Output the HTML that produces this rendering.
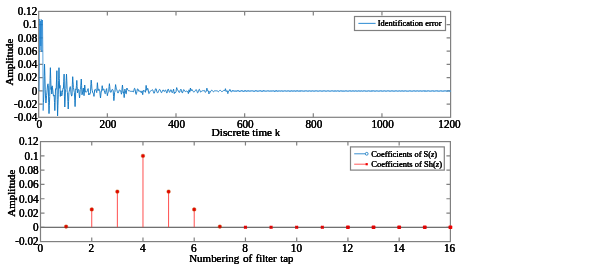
<!DOCTYPE html>
<html lang="en"><head><meta charset="utf-8"><title>Identification error and filter coefficients</title>
<style>html,body{margin:0;padding:0;background:#fff}svg{display:block}text{font-family:"Liberation Serif",serif;font-weight:normal;fill:#000;stroke:#000;stroke-width:0.18px;filter:url(#fb)}text.nf{filter:none}text.lg{filter:url(#fl);stroke-width:0.14px}</style></head><body>
<svg width="602" height="270" viewBox="0 0 602 270">
<defs><filter id="fb" x="-10%" y="-25%" width="120%" height="150%"><feOffset dx="0.38" dy="0" result="o"/><feMerge><feMergeNode in="SourceGraphic"/><feMergeNode in="o"/></feMerge></filter><filter id="fl" x="-10%" y="-25%" width="120%" height="150%"><feOffset dx="0.3" dy="0" result="o"/><feMerge><feMergeNode in="SourceGraphic"/><feMergeNode in="o"/></feMerge></filter><filter id="fv" x="-25%" y="-10%" width="150%" height="120%"><feOffset dx="0" dy="-0.38" result="o"/><feMerge><feMergeNode in="SourceGraphic"/><feMergeNode in="o"/></feMerge></filter></defs>
<rect width="602" height="270" fill="#fff"/>
<rect x="38.7" y="11.4" width="411.90000000000003" height="105.89999999999999" fill="none" stroke="#808080" stroke-width="1.2"/>
<path d="M107.35,117.3v-4M107.35,11.4v4M176.00,117.3v-4M176.00,11.4v4M244.65,117.3v-4M244.65,11.4v4M313.30,117.3v-4M313.30,11.4v4M381.95,117.3v-4M381.95,11.4v4M38.7,104.06h4M450.6,104.06h-4M38.7,90.83h4M450.6,90.83h-4M38.7,77.59h4M450.6,77.59h-4M38.7,64.35h4M450.6,64.35h-4M38.7,51.11h4M450.6,51.11h-4M38.7,37.88h4M450.6,37.88h-4M38.7,24.64h4M450.6,24.64h-4" stroke="#808080" stroke-width="1.2" fill="none"/>
<path d="M39.05,91.0 L39.39,70.0 L39.74,19.0 L40.08,50.0 L40.42,21.0 L40.77,46.0 L41.11,30.0 L41.45,19.5 L41.80,52.0 L42.14,24.0 L42.48,20.0 L42.83,50.0 L43.17,110.6 L43.51,102.4" fill="none" stroke="#1b7fd0" stroke-width="0.7" stroke-linejoin="round"/>
<path d="M43.51,102.4 L43.86,93.1 L44.20,76.6 L44.54,64.0 L44.89,75.2 L45.23,89.8 L45.57,98.1 L45.92,103.0 L46.26,100.2 L46.60,95.6 L46.94,92.1 L47.29,88.0 L47.63,84.7 L47.97,83.8 L48.32,85.6 L48.66,102.6 L49.00,113.6 L49.35,105.5 L49.69,96.6 L50.03,80.5 L50.38,67.7 L50.72,78.7 L51.06,89.5 L51.41,87.2 L51.75,94.0 L52.09,85.8 L52.44,87.4 L52.78,90.0 L53.12,93.3 L53.47,95.7 L53.81,96.2 L54.15,95.0 L54.50,102.6 L54.84,110.6 L55.18,100.9 L55.53,88.7 L55.87,89.0 L56.21,89.3 L56.56,79.1 L56.90,70.7 L57.24,99.4 L57.59,115.9 L57.93,105.5 L58.27,94.9 L58.62,80.4 L58.96,67.7 L59.30,78.7 L59.65,88.3 L59.99,85.4 L60.33,96.4 L60.67,92.2 L61.02,90.8 L61.36,94.3 L61.70,95.9 L62.05,95.1 L62.39,92.4 L62.73,89.6 L63.08,88.1 L63.42,88.3 L63.76,81.3 L64.11,74.1 L64.45,96.1 L64.79,107.0 L65.14,100.0 L65.48,89.5 L65.82,88.4 L66.17,80.7 L66.51,74.1 L66.85,81.9 L67.20,92.3 L67.54,92.6 L67.88,101.6 L68.23,109.0 L68.57,101.7 L68.91,92.4 L69.26,91.2 L69.60,89.2 L69.94,87.3 L70.29,86.6 L70.63,87.8 L70.97,93.0 L71.32,95.0 L71.66,96.0 L72.00,95.7 L72.35,84.2 L72.69,76.7 L73.03,81.8 L73.38,87.6 L73.72,89.0 L74.06,91.1 L74.40,92.6 L74.75,100.3 L75.09,106.6 L75.43,99.0 L75.78,88.9 L76.12,89.7 L76.46,85.4 L76.81,80.4 L77.15,86.5 L77.49,92.8 L77.84,91.1 L78.18,89.7 L78.52,89.4 L78.87,90.2 L79.21,94.8 L79.55,98.0 L79.90,94.6 L80.24,89.6 L80.58,89.2 L80.93,84.0 L81.27,79.0 L81.61,85.7 L81.96,94.8 L82.30,94.1 L82.64,91.9 L82.99,89.3 L83.33,88.0 L83.67,92.2 L84.02,95.7 L84.36,92.0 L84.70,85.0 L85.05,88.2 L85.39,92.0 L85.73,91.9 L86.08,91.9 L86.42,92.0 L86.76,91.8 L87.11,91.3 L87.45,90.4 L87.79,89.2 L88.13,88.6 L88.48,92.2 L88.82,95.0 L89.16,93.6 L89.51,93.7 L89.85,94.3 L90.19,93.6 L90.54,91.8 L90.88,84.4 L91.22,80.1 L91.57,83.6 L91.91,88.9 L92.25,90.5 L92.60,92.1 L92.94,93.1 L93.28,93.3 L93.63,94.7 L93.97,96.4 L94.31,93.8 L94.66,89.8 L95.00,89.4 L95.34,89.3 L95.69,89.8 L96.03,90.6 L96.37,91.5 L96.72,92.6 L97.06,87.4 L97.40,82.7 L97.75,86.9 L98.09,90.7 L98.43,89.4 L98.78,88.9 L99.12,89.3 L99.46,90.2 L99.81,91.1 L100.15,95.1 L100.49,98.0 L100.84,95.0 L101.18,91.4 L101.52,91.6 L101.86,88.5 L102.21,85.7 L102.55,88.3 L102.89,90.4 L103.24,89.4 L103.58,88.8 L103.92,89.2 L104.27,90.5 L104.61,92.3 L104.95,93.5 L105.30,93.7 L105.64,92.6 L105.98,90.8 L106.33,89.2 L106.67,88.6 L107.01,92.7 L107.36,95.7 L107.70,93.9 L108.04,92.5 L108.39,92.3 L108.73,91.4 L109.07,86.7 L109.42,83.7 L109.76,86.6 L110.10,91.0 L110.45,92.0 L110.79,92.4 L111.13,92.0 L111.48,91.1 L111.82,90.1 L112.16,89.4 L112.51,89.4 L112.85,89.9 L113.19,90.8 L113.54,96.5 L113.88,100.6 L114.22,97.0 L114.57,92.5 L114.91,92.0 L115.25,87.6 L115.59,84.6 L115.94,86.7 L116.28,88.9 L116.62,89.2 L116.97,90.2 L117.31,91.6 L117.65,92.7 L118.00,93.1 L118.34,92.7 L118.68,91.8 L119.03,90.7 L119.37,90.0 L119.71,89.9 L120.06,90.2 L120.40,90.6 L120.74,90.8 L121.09,92.7 L121.43,94.2 L121.77,92.7 L122.12,87.8 L122.46,85.0 L122.80,88.4 L123.15,92.5 L123.49,91.8 L123.83,94.4 L124.18,97.6 L124.52,93.6 L124.86,89.1 L125.21,90.3 L125.55,92.1 L125.89,93.6 L126.24,93.8 L126.58,90.2 L126.92,88.0 L127.27,89.0 L127.61,89.6 L127.95,89.8 L128.30,90.4 L128.64,91.0 L128.98,91.2 L129.32,91.0 L129.67,90.7 L130.01,90.7 L130.35,91.0 L130.70,91.4 L131.04,91.6 L131.38,91.4 L131.73,91.0 L132.07,90.8 L132.41,91.1 L132.76,91.7 L133.10,92.1 L133.44,91.8 L133.79,90.8 L134.13,89.3 L134.47,88.3 L134.82,88.5 L135.16,89.9 L135.50,92.0 L135.85,93.8 L136.19,94.4 L136.53,93.4 L136.88,91.6 L137.22,89.8 L137.56,88.8 L137.91,89.0 L138.25,89.9 L138.59,90.9 L138.94,91.4 L139.28,91.3 L139.62,90.9 L139.97,90.7 L140.31,91.1 L140.65,91.9 L141.00,92.6 L141.34,92.7 L141.68,92.1 L142.03,90.9 L142.37,92.5 L142.71,94.7 L143.05,92.5 L143.40,90.2 L143.74,90.6 L144.08,90.7 L144.43,90.8 L144.77,91.1 L145.11,91.6 L145.46,92.3 L145.80,88.8 L146.14,85.4 L146.49,88.3 L146.83,90.3 L147.17,88.9 L147.52,88.2 L147.86,88.6 L148.20,89.9 L148.55,92.7 L148.89,93.6 L149.23,93.3 L149.58,92.5 L149.92,91.8 L150.26,91.2 L150.61,90.8 L150.95,90.7 L151.29,90.6 L151.64,90.3 L151.98,89.9 L152.32,89.7 L152.67,89.9 L153.01,90.7 L153.35,91.7 L153.70,92.8 L154.04,93.3 L154.38,92.9 L154.73,91.8 L155.07,90.3 L155.41,89.1 L155.76,88.6 L156.10,88.9 L156.44,90.0 L156.78,91.2 L157.13,92.3 L157.47,92.8 L157.81,92.8 L158.16,92.2 L158.50,91.4 L158.84,90.6 L159.19,89.8 L159.53,89.4 L159.87,89.5 L160.22,90.0 L160.56,90.8 L160.90,91.8 L161.25,92.6 L161.59,92.7 L161.93,92.1 L162.28,91.3 L162.62,90.4 L162.96,89.9 L163.31,90.0 L163.65,90.7 L163.99,91.3 L164.34,91.5 L164.68,91.1 L165.02,90.4 L165.37,89.9 L165.71,90.2 L166.05,91.1 L166.40,92.3 L166.74,93.1 L167.08,92.7 L167.43,91.4 L167.77,90.0 L168.11,89.1 L168.46,89.3 L168.80,90.4 L169.14,91.6 L169.49,92.3 L169.83,92.1 L170.17,91.2 L170.51,90.2 L170.86,89.7 L171.20,90.1 L171.54,91.1 L171.89,92.2 L172.23,92.8 L172.57,92.4 L172.92,91.3 L173.26,90.0 L173.60,89.1 L173.95,91.6 L174.29,93.6 L174.63,92.5 L174.98,92.1 L175.32,92.7 L175.66,92.5 L176.01,91.9 L176.35,89.2 L176.69,87.6 L177.04,88.6 L177.38,89.7 L177.72,89.9 L178.07,90.5 L178.41,91.3 L178.75,92.0 L179.10,92.5 L179.44,92.4 L179.78,92.1 L180.13,90.6 L180.47,89.6 L180.81,89.1 L181.16,89.5 L181.50,90.7 L181.84,92.0 L182.19,92.8 L182.53,92.8 L182.87,91.9 L183.22,90.7 L183.56,89.8 L183.90,89.6 L184.24,90.0 L184.59,90.8 L184.93,91.4 L185.27,91.6 L185.62,91.4 L185.96,91.1 L186.30,91.0 L186.65,91.3 L186.99,91.6 L187.33,91.7 L187.68,91.3 L188.02,92.2 L188.36,93.6 L188.71,91.7 L189.05,89.8 L189.39,90.9 L189.74,92.2 L190.08,90.3 L190.42,88.0 L190.77,89.8 L191.11,90.8 L191.45,89.8 L191.80,89.4 L192.14,89.6 L192.48,90.3 L192.83,91.0 L193.17,91.5 L193.51,91.8 L193.86,91.9 L194.20,91.8 L194.54,91.6 L194.89,91.3 L195.23,90.8 L195.57,90.2 L195.92,89.7 L196.26,89.7 L196.60,90.2 L196.95,91.2 L197.29,92.3 L197.63,92.9 L197.97,92.6 L198.32,91.7 L198.66,90.4 L199.00,89.5 L199.35,89.3 L199.69,89.9 L200.03,90.9 L200.38,91.8 L200.72,92.1 L201.06,91.9 L201.41,91.4 L201.75,90.9 L202.09,90.6 L202.44,90.7 L202.78,90.9 L203.12,90.9 L203.47,90.7 L203.81,90.4 L204.15,90.3 L204.50,90.6 L204.84,91.5 L205.18,92.2 L205.53,92.3 L205.87,91.9 L206.21,91.2 L206.56,89.2 L206.90,88.2 L207.24,89.2 L207.59,90.7 L207.93,90.8 L208.27,90.8 L208.62,92.5 L208.96,93.9 L209.30,92.6 L209.65,91.6 L209.99,92.1 L210.33,92.2 L210.68,91.3 L211.02,90.9 L211.36,90.4 L211.70,90.2 L212.05,90.2 L212.39,90.6 L212.73,91.2 L213.08,91.6 L213.42,91.8 L213.76,91.6 L214.11,91.2 L214.45,90.9 L214.79,90.7 L215.14,90.7 L215.48,90.8 L215.82,90.9 L216.17,90.9 L216.51,90.8 L216.85,90.8 L217.20,90.9 L217.54,91.1 L217.88,91.4 L218.23,91.6 L218.57,91.6 L218.91,91.3 L219.26,90.9 L219.60,90.5 L219.94,90.3 L220.29,90.3 L220.63,90.6 L220.97,91.0 L221.32,91.3 L221.66,91.6 L222.00,91.6 L222.35,91.5 L222.69,91.2 L223.03,90.9 L223.38,90.7 L223.72,90.4 L224.06,90.4 L224.41,90.5 L224.75,90.8 L225.09,89.8 L225.43,88.7 L225.78,90.0 L226.12,91.5 L226.46,91.1 L226.81,90.8 L227.15,90.6 L227.49,92.3 L227.84,93.6 L228.18,92.5 L228.52,91.2 L228.87,91.1 L229.21,90.9 L229.55,89.9 L229.90,89.4 L230.24,90.0 L230.58,91.2 L230.93,91.7 L231.27,91.8" fill="none" stroke="#1177c2" stroke-width="0.95" stroke-linejoin="round"/>
<path d="M231.27,91.84 L231.61,91.60 L231.96,91.09 L232.30,90.56 L232.64,90.55 L232.99,90.61 L233.33,90.80 L233.67,91.01 L234.02,91.14 L234.36,91.14 L234.70,91.07 L235.05,91.00 L235.39,91.01 L235.73,91.09 L236.08,91.19 L236.42,91.23 L236.76,91.13 L237.11,90.95 L237.45,90.75 L237.79,90.61 L238.14,90.62 L238.48,90.80 L238.82,91.03 L239.16,91.23 L239.51,91.34 L239.85,91.34 L240.19,91.24 L240.54,91.09 L240.88,90.93 L241.22,90.79 L241.57,90.70 L241.91,90.69 L242.25,90.77 L242.60,90.93 L242.94,91.14 L243.28,91.31 L243.63,91.37 L243.97,91.29 L244.31,91.09 L244.66,90.84 L245.00,90.67 L245.34,90.64 L245.69,90.79 L246.03,91.02 L246.37,91.22 L246.72,91.31 L247.06,91.23 L247.40,91.03 L247.75,90.83 L248.09,90.74 L248.43,90.79 L248.78,90.94 L249.12,91.12 L249.46,91.20 L249.81,91.19 L250.15,91.11 L250.49,91.01 L250.84,90.95 L251.18,90.94 L251.52,90.93 L251.87,90.90 L252.21,90.86 L252.55,90.83 L252.89,90.88 L253.24,91.00 L253.58,91.16 L253.92,91.30 L254.27,91.35 L254.61,91.25 L254.95,91.03 L255.30,90.81 L255.64,90.67 L255.98,90.65 L256.33,90.75 L256.67,90.92 L257.01,91.09 L257.36,91.19 L257.70,91.23 L258.04,91.22 L258.39,91.16 L258.73,91.07 L259.07,90.98 L259.42,90.88 L259.76,90.79 L260.10,90.74 L260.45,90.76 L260.79,90.87 L261.13,91.04 L261.48,91.23 L261.82,91.35 L262.16,91.34 L262.51,91.21 L262.85,91.00 L263.19,90.80 L263.54,90.68 L263.88,90.69 L264.22,90.80 L264.57,90.96 L264.91,91.10 L265.25,91.18 L265.60,91.21 L265.94,91.17 L266.28,91.11 L266.62,91.05 L266.97,90.98 L267.31,90.89 L267.65,90.82 L268.00,90.80 L268.34,90.83 L268.68,90.91 L269.03,91.05 L269.37,91.18 L269.71,91.22 L270.06,91.16 L270.40,91.06 L270.74,90.97 L271.09,90.95 L271.43,90.99 L271.77,91.03 L272.12,91.04 L272.46,90.97 L272.80,90.87 L273.15,90.79 L273.49,90.80 L273.83,90.94 L274.18,91.14 L274.52,91.30 L274.86,91.34 L275.21,91.20 L275.55,90.96 L275.89,90.75 L276.24,90.66 L276.58,90.74 L276.92,90.94 L277.27,91.14 L277.61,91.24 L277.95,91.20 L278.30,91.07 L278.64,90.92 L278.98,90.84 L279.33,90.88 L279.67,91.00 L280.01,91.11 L280.35,91.14 L280.70,91.07 L281.04,90.93 L281.38,90.81 L281.73,90.80 L282.07,90.91 L282.41,91.07 L282.76,91.22 L283.10,91.25 L283.44,91.15 L283.79,91.01 L284.13,90.87 L284.47,90.80 L284.82,90.81 L285.16,90.89 L285.50,90.98 L285.85,91.07 L286.19,91.14 L286.53,91.17 L286.88,91.15 L287.22,91.09 L287.56,90.98 L287.91,90.86 L288.25,90.78 L288.59,90.78 L288.94,90.88 L289.28,91.05 L289.62,91.20 L289.97,91.27 L290.31,91.21 L290.65,91.05 L291.00,90.88 L291.34,90.77 L291.68,90.78 L292.03,90.91 L292.37,91.07 L292.71,91.18 L293.06,91.18 L293.40,91.07 L293.74,90.92 L294.08,90.82 L294.43,90.83 L294.77,90.94 L295.11,91.10 L295.46,91.23 L295.80,91.22 L296.14,91.10 L296.49,90.93 L296.83,90.78 L297.17,90.75 L297.52,90.84 L297.86,90.98 L298.20,91.11 L298.55,91.17 L298.89,91.14 L299.23,91.07 L299.58,91.01 L299.92,90.99 L300.26,91.00 L300.61,91.01 L300.95,90.98 L301.29,90.92 L301.64,90.87 L301.98,90.84 L302.32,90.89 L302.67,91.01 L303.01,91.11 L303.35,91.17 L303.70,91.17 L304.04,91.12 L304.38,91.04 L304.73,90.98 L305.07,90.94 L305.41,90.90 L305.76,90.89 L306.10,90.89 L306.44,90.92 L306.79,90.98 L307.13,91.07 L307.47,91.16 L307.81,91.19 L308.16,91.15 L308.50,91.04 L308.84,90.89 L309.19,90.79 L309.53,90.78 L309.87,90.87 L310.22,91.02 L310.56,91.16 L310.90,91.22 L311.25,91.18 L311.59,91.05 L311.93,90.91 L312.28,90.82 L312.62,90.82 L312.96,90.89 L313.31,91.01 L313.65,91.09 L313.99,91.13 L314.34,91.12 L314.68,91.07 L315.02,91.01 L315.37,90.97 L315.71,90.93 L316.05,90.90 L316.40,90.89 L316.74,90.90 L317.08,90.95 L317.43,91.03 L317.77,91.12 L318.11,91.19 L318.46,91.19 L318.80,91.12 L319.14,90.99 L319.49,90.86 L319.83,90.79 L320.17,90.79 L320.52,90.87 L320.86,90.99 L321.20,91.09 L321.54,91.15 L321.89,91.16 L322.23,91.12 L322.57,91.06 L322.92,91.00 L323.26,90.95 L323.60,90.91 L323.95,90.87 L324.29,90.87 L324.63,90.89 L324.98,90.95 L325.32,91.04 L325.66,91.14 L326.01,91.20 L326.35,91.19 L326.69,91.12 L327.04,91.00 L327.38,90.88 L327.72,90.80 L328.07,90.80 L328.41,90.86 L328.75,90.96 L329.10,91.06 L329.44,91.13 L329.78,91.15 L330.13,91.13 L330.47,91.09 L330.81,91.03 L331.16,90.96 L331.50,90.90 L331.84,90.86 L332.19,90.86 L332.53,90.91 L332.87,90.98 L333.22,91.07 L333.56,91.13 L333.90,91.13 L334.25,91.08 L334.59,91.00 L334.93,90.94 L335.27,90.94 L335.62,90.98 L335.96,91.05 L336.30,91.08 L336.65,91.05 L336.99,90.97 L337.33,90.87 L337.68,90.81 L338.02,90.85 L338.36,90.97 L338.71,91.12 L339.05,91.23 L339.39,91.24 L339.74,91.14 L340.08,90.99 L340.42,90.87 L340.77,90.82 L341.11,90.86 L341.45,90.94 L341.80,91.01 L342.14,91.04 L342.48,91.03 L342.83,91.01 L343.17,91.00 L343.51,91.03 L343.86,91.07 L344.20,91.11 L344.54,91.11 L344.89,91.04 L345.23,90.94 L345.57,90.85 L345.92,90.81 L346.26,90.84 L346.60,90.93 L346.95,91.04 L347.29,91.13 L347.63,91.17 L347.98,91.15 L348.32,91.10 L348.66,91.03 L349.00,90.95 L349.35,90.89 L349.69,90.86 L350.03,90.86 L350.38,90.92 L350.72,91.00 L351.06,91.09 L351.41,91.15 L351.75,91.14 L352.09,91.07 L352.44,90.97 L352.78,90.89 L353.12,90.87 L353.47,90.92 L353.81,91.02 L354.15,91.10 L354.50,91.12 L354.84,91.07 L355.18,90.96 L355.53,90.87 L355.87,90.84 L356.21,90.91 L356.56,91.02 L356.90,91.14 L357.24,91.19 L357.59,91.14 L357.93,91.02 L358.27,90.90 L358.62,90.84 L358.96,90.87 L359.30,90.95 L359.65,91.05 L359.99,91.09 L360.33,91.07 L360.68,91.01 L361.02,90.94 L361.36,90.92 L361.71,90.97 L362.05,91.04 L362.39,91.11 L362.73,91.13 L363.08,91.07 L363.42,90.98 L363.76,90.91 L364.11,90.87 L364.45,90.89 L364.79,90.93 L365.14,90.98 L365.48,91.02 L365.82,91.05 L366.17,91.08 L366.51,91.11 L366.85,91.12 L367.20,91.09 L367.54,91.01 L367.88,90.91 L368.23,90.83 L368.57,90.82 L368.91,90.87 L369.26,90.96 L369.60,91.07 L369.94,91.12 L370.29,91.11 L370.63,91.07 L370.97,91.03 L371.32,91.00 L371.66,90.99 L372.00,91.00 L372.35,90.99 L372.69,90.96 L373.03,90.92 L373.38,90.90 L373.72,90.92 L374.06,90.98 L374.41,91.07 L374.75,91.15 L375.09,91.17 L375.44,91.12 L375.78,91.02 L376.12,90.91 L376.46,90.84 L376.81,90.83 L377.15,90.89 L377.49,90.98 L377.84,91.05 L378.18,91.10 L378.52,91.11 L378.87,91.09 L379.21,91.05 L379.55,91.01 L379.90,90.96 L380.24,90.93 L380.58,90.90 L380.93,90.90 L381.27,90.93 L381.61,90.99 L381.96,91.07 L382.30,91.13 L382.64,91.15 L382.99,91.11 L383.33,91.02 L383.67,90.92 L384.02,90.85 L384.36,90.84 L384.70,90.89 L385.05,90.98 L385.39,91.07 L385.73,91.12 L386.08,91.12 L386.42,91.08 L386.76,91.02 L387.11,90.97 L387.45,90.94 L387.79,90.93 L388.14,90.93 L388.48,90.94 L388.82,90.96 L389.17,90.99 L389.51,91.03 L389.85,91.09 L390.19,91.12 L390.54,91.12 L390.88,91.07 L391.22,90.98 L391.57,90.89 L391.91,90.85 L392.25,90.86 L392.60,90.92 L392.94,91.01 L393.28,91.08 L393.63,91.11 L393.97,91.11 L394.31,91.08 L394.66,91.03 L395.00,90.99 L395.34,90.95 L395.69,90.92 L396.03,90.91 L396.37,90.93 L396.72,90.97 L397.06,91.03 L397.40,91.08 L397.75,91.11 L398.09,91.09 L398.43,91.02 L398.78,90.95 L399.12,90.90 L399.46,90.90 L399.81,90.96 L400.15,91.04 L400.49,91.10 L400.84,91.11 L401.18,91.05 L401.52,90.96 L401.87,90.89 L402.21,90.86 L402.55,90.91 L402.90,91.00 L403.24,91.09 L403.58,91.15 L403.92,91.13 L404.27,91.06 L404.61,90.97 L404.95,90.91 L405.30,90.89 L405.64,90.91 L405.98,90.95 L406.33,91.00 L406.67,91.03 L407.01,91.05 L407.36,91.05 L407.70,91.06 L408.04,91.06 L408.39,91.05 L408.73,91.03 L409.07,90.98 L409.42,90.93 L409.76,90.89 L410.10,90.89 L410.45,90.92 L410.79,90.99 L411.13,91.05 L411.48,91.09 L411.82,91.10 L412.16,91.09 L412.51,91.05 L412.85,91.01 L413.19,90.96 L413.54,90.92 L413.88,90.90 L414.22,90.91 L414.57,90.94 L414.91,91.00 L415.25,91.07 L415.60,91.12 L415.94,91.12 L416.28,91.07 L416.63,90.99 L416.97,90.91 L417.31,90.87 L417.65,90.89 L418.00,90.96 L418.34,91.05 L418.68,91.10 L419.03,91.10 L419.37,91.05 L419.71,90.97 L420.06,90.91 L420.40,90.90 L420.74,90.94 L421.09,91.01 L421.43,91.08 L421.77,91.10 L422.12,91.07 L422.46,91.02 L422.80,90.96 L423.15,90.93 L423.49,90.94 L423.83,90.96 L424.18,90.99 L424.52,90.99 L424.86,90.99 L425.21,90.99 L425.55,91.01 L425.89,91.05 L426.24,91.08 L426.58,91.09 L426.92,91.07 L427.27,91.00 L427.61,90.94 L427.95,90.90 L428.30,90.90 L428.64,90.92 L428.98,90.97 L429.33,91.01 L429.67,91.04 L430.01,91.06 L430.36,91.07 L430.70,91.07 L431.04,91.06 L431.38,91.02 L431.73,90.97 L432.07,90.92 L432.41,90.88 L432.76,90.89 L433.10,90.93 L433.44,91.00 L433.79,91.08 L434.13,91.12 L434.47,91.12 L434.82,91.08 L435.16,91.02 L435.50,90.96 L435.85,90.93 L436.19,90.93 L436.53,90.94 L436.88,90.96 L437.22,90.97 L437.56,90.99 L437.91,91.01 L438.25,91.04 L438.59,91.07 L438.94,91.09 L439.28,91.09 L439.62,91.05 L439.97,90.98 L440.31,90.92 L440.65,90.88 L441.00,90.89 L441.34,90.93 L441.68,90.99 L442.03,91.05 L442.37,91.08 L442.71,91.08 L443.06,91.07 L443.40,91.04 L443.74,91.01 L444.09,90.99 L444.43,90.96 L444.77,90.93 L445.11,90.92 L445.46,90.93 L445.80,90.96 L446.14,91.02 L446.49,91.08 L446.83,91.11 L447.17,91.10 L447.52,91.05 L447.86,90.98 L448.20,90.92 L448.55,90.90 L448.89,90.92 L449.23,90.97 L449.58,91.02 L449.92,91.05 L450.26,91.06 L450.61,91.04 L450.95,91.00" fill="none" stroke="#4598d8" stroke-width="1.3" stroke-linejoin="round"/>
<text transform="translate(37.3,121.0) scale(1,1.03)" font-size="11.2" text-anchor="end">-0.04</text>
<text transform="translate(37.3,107.8) scale(1,1.03)" font-size="11.2" text-anchor="end">-0.02</text>
<text transform="translate(37.3,94.6) scale(1,1.03)" font-size="11.2" text-anchor="end">0</text>
<text transform="translate(37.3,81.3) scale(1,1.03)" font-size="11.2" text-anchor="end">0.02</text>
<text transform="translate(37.3,68.1) scale(1,1.03)" font-size="11.2" text-anchor="end">0.04</text>
<text transform="translate(37.3,54.9) scale(1,1.03)" font-size="11.2" text-anchor="end">0.06</text>
<text transform="translate(37.3,41.6) scale(1,1.03)" font-size="11.2" text-anchor="end">0.08</text>
<text transform="translate(37.3,28.4) scale(1,1.03)" font-size="11.2" text-anchor="end">0.1</text>
<text transform="translate(37.3,15.2) scale(1,1.03)" font-size="11.2" text-anchor="end">0.12</text>
<text transform="translate(39.3,128.4) scale(1,1.03)" font-size="11.2" text-anchor="middle">0</text>
<text transform="translate(108.0,128.4) scale(1,1.03)" font-size="11.2" text-anchor="middle">200</text>
<text transform="translate(176.6,128.4) scale(1,1.03)" font-size="11.2" text-anchor="middle">400</text>
<text transform="translate(245.3,128.4) scale(1,1.03)" font-size="11.2" text-anchor="middle">600</text>
<text transform="translate(313.9,128.4) scale(1,1.03)" font-size="11.2" text-anchor="middle">800</text>
<text transform="translate(382.6,128.4) scale(1,1.03)" font-size="11.2" text-anchor="middle">1000</text>
<text transform="translate(449.5,128.4) scale(1,1.03)" font-size="11.2" text-anchor="middle">1200</text>
<text y="136.4" font-size="11.2"><tspan x="211.4" textLength="38.3" lengthAdjust="spacingAndGlyphs">Discrete</tspan> <tspan x="252.2" textLength="19.8" lengthAdjust="spacingAndGlyphs">time</tspan> <tspan x="275.0" textLength="5.0" lengthAdjust="spacingAndGlyphs">k</tspan></text>
<g filter="url(#fv)"><text class="nf" transform="translate(13,62) rotate(-90)" font-size="11.2" text-anchor="middle" textLength="47" lengthAdjust="spacingAndGlyphs">Amplitude</text></g>
<rect x="354.5" y="16.5" width="91" height="14" fill="#fff" stroke="#808080" stroke-width="1.2"/>
<path d="M358.4,23.4H375.6" stroke="#3f95d6" stroke-width="1.1"/>
<text class="lg" transform="translate(377.8,26.2) scale(1,1.08)" font-size="8.4" textLength="63.7" lengthAdjust="spacingAndGlyphs">Identification error</text>
<rect x="40.5" y="141.6" width="409.9" height="100.0" fill="none" stroke="#808080" stroke-width="1.2"/>
<path d="M91.74,241.6v-4M91.74,141.6v4M142.97,241.6v-4M142.97,141.6v4M194.21,241.6v-4M194.21,141.6v4M245.45,241.6v-4M245.45,141.6v4M296.69,241.6v-4M296.69,141.6v4M347.92,241.6v-4M347.92,141.6v4M399.16,241.6v-4M399.16,141.6v4M40.5,227.31h4M450.4,227.31h-4M40.5,213.03h4M450.4,213.03h-4M40.5,198.74h4M450.4,198.74h-4M40.5,184.46h4M450.4,184.46h-4M40.5,170.17h4M450.4,170.17h-4M40.5,155.89h4M450.4,155.89h-4" stroke="#808080" stroke-width="1.2" fill="none"/>
<path d="M40.5,227.31H450.4" stroke="#808080" stroke-width="1.2"/>
<path d="M91.74,227.31V209.46M117.36,227.31V191.60M142.97,227.31V155.89M168.59,227.31V191.60M194.21,227.31V209.46" stroke="#ff4646" stroke-width="0.95" fill="none"/>
<rect x="64.47" y="224.95" width="3.3" height="3.3" rx="1.2" fill="#e60000" stroke="#c05a10" stroke-width="0.5"/>
<rect x="90.09" y="207.81" width="3.3" height="3.3" rx="1.2" fill="#e60000" stroke="#c05a10" stroke-width="0.5"/>
<rect x="115.71" y="189.95" width="3.3" height="3.3" rx="1.2" fill="#e60000" stroke="#c05a10" stroke-width="0.5"/>
<rect x="141.32" y="154.24" width="3.3" height="3.3" rx="1.2" fill="#e60000" stroke="#c05a10" stroke-width="0.5"/>
<rect x="166.94" y="189.95" width="3.3" height="3.3" rx="1.2" fill="#e60000" stroke="#c05a10" stroke-width="0.5"/>
<rect x="192.56" y="207.81" width="3.3" height="3.3" rx="1.2" fill="#e60000" stroke="#c05a10" stroke-width="0.5"/>
<rect x="218.18" y="224.95" width="3.3" height="3.3" rx="1.2" fill="#e60000" stroke="#c05a10" stroke-width="0.5"/>
<path d="M244.05,225.91l2.8,2.8M244.05,228.71l2.8,-2.8M243.95,227.31h3M245.45,225.81v3" stroke="#f00000" stroke-width="1.1" fill="none"/>
<path d="M269.67,225.91l2.8,2.8M269.67,228.71l2.8,-2.8M269.57,227.31h3M271.07,225.81v3" stroke="#f00000" stroke-width="1.1" fill="none"/>
<path d="M295.29,225.91l2.8,2.8M295.29,228.71l2.8,-2.8M295.19,227.31h3M296.69,225.81v3" stroke="#f00000" stroke-width="1.1" fill="none"/>
<path d="M320.91,225.91l2.8,2.8M320.91,228.71l2.8,-2.8M320.81,227.31h3M322.31,225.81v3" stroke="#f00000" stroke-width="1.1" fill="none"/>
<rect x="346.02" y="225.61" width="3.8" height="3.4" rx="0.8" fill="#f00000"/>
<rect x="371.64" y="225.61" width="3.8" height="3.4" rx="0.8" fill="#f00000"/>
<rect x="397.26" y="225.61" width="3.8" height="3.4" rx="0.8" fill="#f00000"/>
<rect x="422.88" y="225.61" width="3.8" height="3.4" rx="0.8" fill="#f00000"/>
<rect x="448.50" y="225.61" width="3.8" height="3.4" rx="0.8" fill="#f00000"/>
<path d="M40.5,227.31H450.4" stroke="#404040" stroke-width="1" opacity="0.3"/>
<text transform="translate(38.6,245.3) scale(1,1.03)" font-size="11.2" text-anchor="end">-0.02</text>
<text transform="translate(38.6,231.1) scale(1,1.03)" font-size="11.2" text-anchor="end">0</text>
<text transform="translate(38.6,216.8) scale(1,1.03)" font-size="11.2" text-anchor="end">0.02</text>
<text transform="translate(38.6,202.5) scale(1,1.03)" font-size="11.2" text-anchor="end">0.04</text>
<text transform="translate(38.6,188.2) scale(1,1.03)" font-size="11.2" text-anchor="end">0.06</text>
<text transform="translate(38.6,173.9) scale(1,1.03)" font-size="11.2" text-anchor="end">0.08</text>
<text transform="translate(38.6,159.6) scale(1,1.03)" font-size="11.2" text-anchor="end">0.1</text>
<text transform="translate(38.6,145.4) scale(1,1.03)" font-size="11.2" text-anchor="end">0.12</text>
<text transform="translate(40.2,252.4) scale(1,1.03)" font-size="11.2" text-anchor="middle">0</text>
<text transform="translate(91.4,252.4) scale(1,1.03)" font-size="11.2" text-anchor="middle">2</text>
<text transform="translate(142.7,252.4) scale(1,1.03)" font-size="11.2" text-anchor="middle">4</text>
<text transform="translate(193.9,252.4) scale(1,1.03)" font-size="11.2" text-anchor="middle">6</text>
<text transform="translate(245.1,252.4) scale(1,1.03)" font-size="11.2" text-anchor="middle">8</text>
<text transform="translate(296.4,252.4) scale(1,1.03)" font-size="11.2" text-anchor="middle">10</text>
<text transform="translate(347.6,252.4) scale(1,1.03)" font-size="11.2" text-anchor="middle">12</text>
<text transform="translate(398.9,252.4) scale(1,1.03)" font-size="11.2" text-anchor="middle">14</text>
<text transform="translate(449.5,252.4) scale(1,1.03)" font-size="11.2" text-anchor="middle">16</text>
<text y="261.8" font-size="11.2"><tspan x="189.2" textLength="50.0" lengthAdjust="spacingAndGlyphs">Numbering</tspan> <tspan x="242.9" textLength="9.3" lengthAdjust="spacingAndGlyphs">of</tspan> <tspan x="255.8" textLength="20.7" lengthAdjust="spacingAndGlyphs">filter</tspan> <tspan x="280.2" textLength="13.2" lengthAdjust="spacingAndGlyphs">tap</tspan></text>
<g filter="url(#fv)"><text class="nf" transform="translate(15,193.2) rotate(-90)" font-size="11.2" text-anchor="middle" textLength="47" lengthAdjust="spacingAndGlyphs">Amplitude</text></g>
<rect x="350.5" y="146.9" width="93.8" height="23.2" fill="#fff" stroke="#808080" stroke-width="1.2"/>
<path d="M354.2,153.8H365.5" stroke="#3a8fd0" stroke-width="1"/><circle cx="366.7" cy="153.8" r="1.4" fill="#fff" stroke="#0b73be" stroke-width="0.8"/>
<path d="M354.2,164.2H366" stroke="#ff5252" stroke-width="0.95"/><rect x="365.6" y="163.1" width="2.2" height="2.2" fill="#f00000"/>
<text class="lg" transform="translate(371.2,156.8) scale(1,1.08)" font-size="8.4" textLength="66" lengthAdjust="spacingAndGlyphs">Coefficients of S(<tspan font-style="italic">z</tspan>)</text>
<text class="lg" transform="translate(371.2,167.2) scale(1,1.08)" font-size="8.4" textLength="70.8" lengthAdjust="spacingAndGlyphs">Coefficients of Sh(<tspan font-style="italic">z</tspan>)</text>
</svg></body></html>
